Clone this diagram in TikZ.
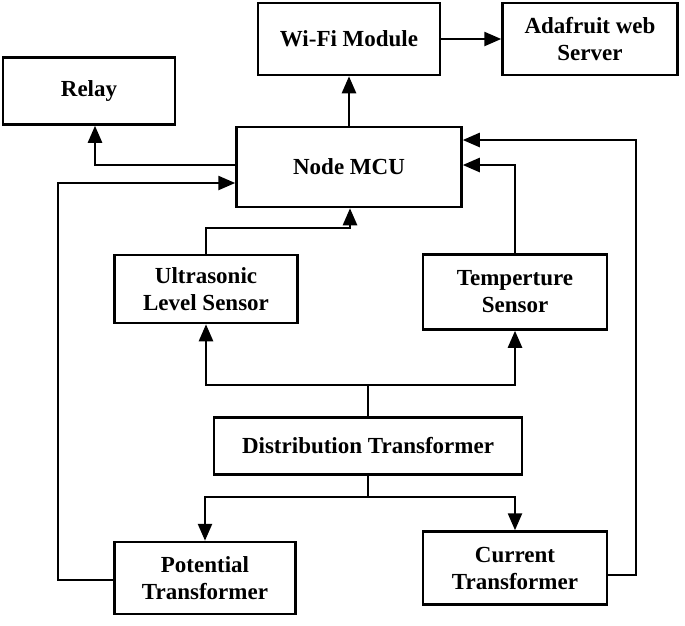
\documentclass[tikz,border=0pt]{standalone}
\usepackage{fontspec}
\setmainfont{Liberation Serif}
\usetikzlibrary{arrows.meta}
\begin{document}
\begin{tikzpicture}[x=1pt,y=-1pt,
  box/.style={draw,line width=2.5pt,font=\bfseries\fontsize{23}{27}\selectfont,align=center,inner sep=0pt},
  ar/.style={line width=2.5pt,-{Triangle[length=17pt,width=14pt]}},
  ln/.style={line width=2.5pt}]
\useasboundingbox (0,0) rectangle (685,625);
\node[box,minimum width=182,minimum height=72] (wifi) at (349,39) {Wi-Fi Module};
\node[box,minimum width=175,minimum height=72] (ada) at (590,39) {Adafruit web\\Server};
\node[box,minimum width=172,minimum height=67] (relay) at (89,91) {Relay};
\node[box,minimum width=225,minimum height=80] (mcu) at (349,167) {Node MCU};
\node[box,minimum width=183,minimum height=68] (ultra) at (206,289) {Ultrasonic\\Level Sensor};
\node[box,minimum width=184,minimum height=75] (temp) at (515,292) {Temperture\\Sensor};
\node[box,minimum width=308,minimum height=57] (dist) at (368,446) {Distribution Transformer};
\node[box,minimum width=181,minimum height=72] (pt) at (205,578) {Potential\\Transformer};
\node[box,minimum width=184,minimum height=73] (ct) at (515,568) {Current\\Transformer};
\draw[ar] (wifi.east) -- (ada.west);
\draw[ar] (mcu.north) -- (wifi.south);
\draw[ar] (mcu.west |- 0,165) -| (relay.south -| 95,0);
\draw[ar] (pt.west |- 0,580) -| (58,183) -- (mcu.west |- 0,183);
\draw[ar] (ct.east |- 0,575) -| (636,140) -- (mcu.east |- 0,140);
\draw[ar] (ultra.north) |- (350,228) -- (mcu.south -| 350,0);
\draw[ar] (temp.north) |- (mcu.east |- 0,165);
\draw[ln] (dist.north) -- (368,385);
\draw[ar] (368,385) -| (ultra.south);
\draw[ar] (368,385) -| (temp.south);
\draw[ln] (dist.south) -- (368,497);
\draw[ar] (368,497) -| (pt.north);
\draw[ar] (368,497) -| (ct.north);
\end{tikzpicture}
\end{document}
